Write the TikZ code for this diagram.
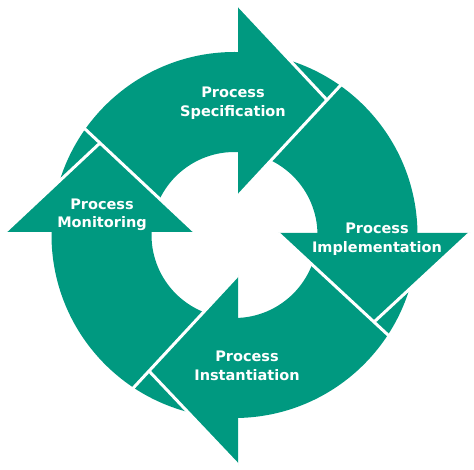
\documentclass[tikz,border=0pt]{standalone}
\usepackage{fontspec}
\setmainfont{DejaVu Sans}
\usetikzlibrary{calc}
\definecolor{cyclegreen}{RGB}{0,153,128}
\tikzset{
    ring/.style={fill=cyclegreen,even odd rule},
    head/.style={fill=cyclegreen},
    gap/.style={draw=white,line width=3pt},
    steptext/.style={text=white,align=center,font=\bfseries\fontsize{14.5}{18.5}\selectfont}
}
\begin{document}
\begin{tikzpicture}[x=1pt,y=-1pt]
            \useasboundingbox (0,0) rectangle (474,470);
            \coordinate (centre) at (234.5,235);
            \fill [ring] (centre) circle [radius=183] (centre) circle [radius=83];

            \coordinate (specout) at (238,5);
            \coordinate (specin) at (238,196);
            \coordinate (spectip) at (327,100);
            \coordinate (implout) at (470,233);
            \coordinate (implin) at (278,233);
            \coordinate (impltip) at (374,322);
            \coordinate (instout) at (238,465);
            \coordinate (instin) at (238,275);
            \coordinate (insttip) at (149,371);
            \coordinate (monout) at (5,232);
            \coordinate (monin) at (195,232);
            \coordinate (montip) at (100,143);

            \fill [head] (specout) -- (spectip) -- (specin) -- cycle;
            \draw [gap] (specout) -- (spectip);
            \draw [gap] (specin) -- ($(specin)!1.25!(spectip)$);
            \fill [head] (implout) -- (impltip) -- (implin) -- cycle;
            \draw [gap] (implout) -- (impltip);
            \draw [gap] (implin) -- ($(implin)!1.25!(impltip)$);
            \fill [head] (instout) -- (insttip) -- (instin) -- cycle;
            \draw [gap] (instout) -- (insttip);
            \draw [gap] (instin) -- ($(instin)!1.25!(insttip)$);
            \fill [head] (monout) -- (montip) -- (monin) -- cycle;
            \draw [gap] (monout) -- (montip);
            \draw [gap] (monin) -- ($(monin)!1.25!(montip)$);

            \node [steptext] (spec) at (233,103) {Process\\Specification};
            \node [steptext] (impl) at (377,239) {Process\\Implementation};
            \node [steptext] (inst) at (247,366) {Process\\Instantiation};
            \node [steptext] (mon) at (102,215) {Process\\Monitoring};
\end{tikzpicture}
\end{document}
